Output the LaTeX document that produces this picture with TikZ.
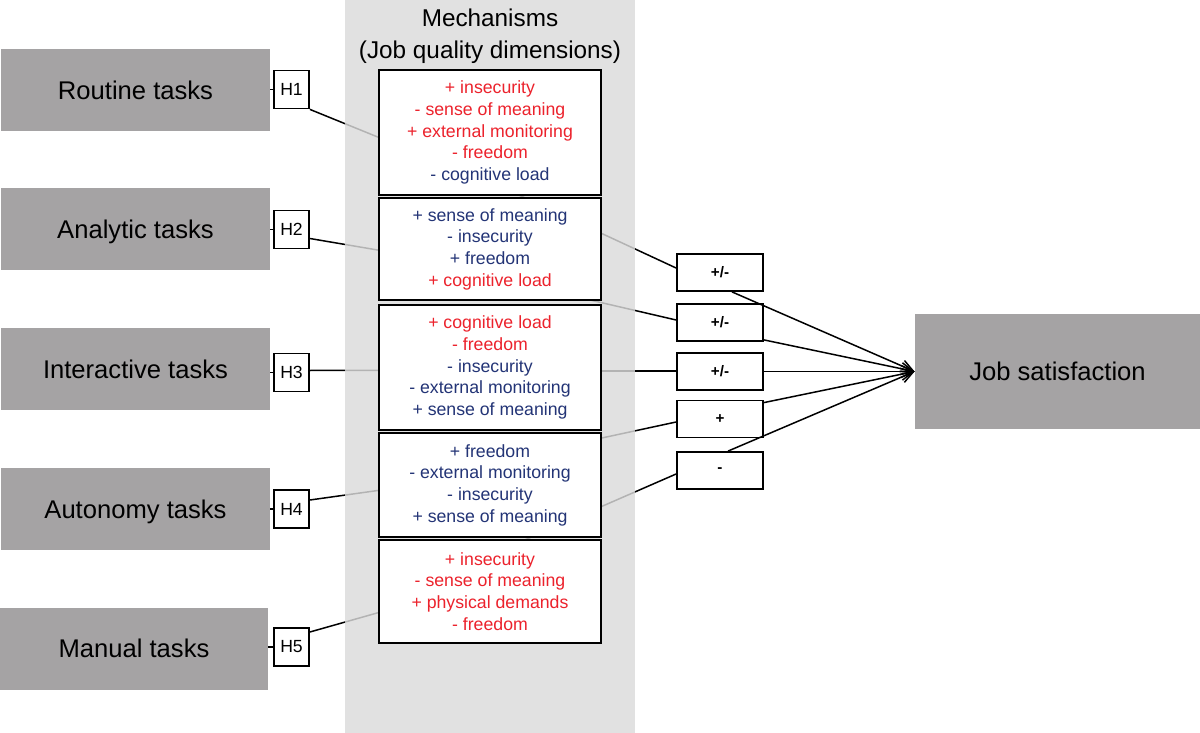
\documentclass[tikz,border=0pt]{standalone}
\usepackage{fontspec}
\setmainfont{Liberation Sans}
\usetikzlibrary{arrows.meta,calc}
\definecolor{taskgray}{RGB}{165,163,164}
\definecolor{panelgray}{RGB}{219,219,219}
\definecolor{negred}{RGB}{236,34,44}
\definecolor{posblue}{RGB}{35,52,118}
\tikzset{
  task/.style={fill=taskgray, minimum width=134.5pt, minimum height=41pt, inner sep=0pt, text height=9.2pt, text depth=0pt, font=\fontsize{12.8pt}{15pt}\selectfont},
  hyp/.style={draw, line width=0.9pt, fill=white, minimum width=17.5pt, minimum height=19pt, inner sep=0pt, font=\fontsize{8.8pt}{10pt}\selectfont},
  mech/.style={draw, line width=1.1pt, fill=white, minimum width=111pt, inner sep=0pt, align=center, font=\fontsize{8.85pt}{10.85pt}\selectfont},
  sign/.style={draw, line width=0.9pt, fill=white, minimum width=43pt, minimum height=18.5pt, inner sep=0pt, font=\bfseries\fontsize{7.6pt}{9pt}\selectfont},
  conn/.style={line width=0.75pt, black},
  outarrow/.style={line width=0.75pt, black, -{Straight Barb[length=6pt,width=6pt,line width=0.75pt]}},
  title/.style={font=\fontsize{12.15pt}{14pt}\selectfont},
}
\begin{document}
\begin{tikzpicture}[x=0.5pt,y=-0.5pt]
\useasboundingbox (0,0) rectangle (1200,733);

% task boxes
\node[task] (r1) at (135.5,90) {Routine tasks};
\node[task] (r2) at (135.5,229) {Analytic tasks};
\node[task] (r3) at (135.5,369) {Interactive tasks};
\node[task] (r4) at (135.5,509) {Autonomy tasks};
\node[task, minimum width=134pt] (r5) at (134,648.5) {Manual tasks};

% hypothesis boxes
\node[hyp] (h1) at (291.5,89.5) {H1};
\node[hyp] (h2) at (291.5,229.5) {H2};
\node[hyp] (h3) at (291.5,372.5) {H3};
\node[hyp] (h4) at (291.5,509) {H4};
\node[hyp] (h5) at (291.5,647) {H5};

\foreach \i in {1,...,5} { \draw[conn] (h\i.west) -- (h\i.west -| r\i.east); }

% mechanism box positions (coordinates for hidden line ends)
\coordinate (m1c) at (490,132.5);
\coordinate (m2c) at (490,249);
\coordinate (m3c) at (490,367.5);
\coordinate (m4c) at (490,485);
\coordinate (m5c) at (490,591.5);

% sign boxes
\node[sign] (s1) at (720,272.5) {+/-};
\node[sign] (s2) at (720,322.5) {+/-};
\node[sign] (s3) at (720,371.5) {+/-};
\node[sign] (s4) at (720,419) {+};
\node[sign] (s5) at (720,470.5) {-};

% connectors from H boxes into mechanism boxes (partly under the panel)
\draw[conn] (h1.south east) -- ($(m1c)+(-30,38)$);
\draw[conn] ($(h2.east)+(0,9)$) -- ($(m2c)+(-30,15)$);
\draw[conn] ($(h3.east)+(0,-2)$) -- ($(m3c)+(-30,2.5)$);
\draw[conn] ($(h4.east)+(0,-9)$) -- ($(m4c)+(-30,-6)$);
\draw[conn] ($(h5.east)+(0,-15)$) -- ($(m5c)+(-30,-2)$);

% connectors from mechanism boxes to sign boxes
\draw[conn] ($(s1.west)+(0,-4.5)$) -- ($(m1c)+(-10,44.5)$);
\draw[conn] ($(s2.west)+(0,-2.5)$) -- ($(m2c)+(70,44)$);
\draw[conn] ($(s3.west)+(0,-0.5)$) -- ($(m3c)+(70,3.5)$);
\draw[conn] ($(s4.west)+(0,3)$) -- ($(m4c)+(70,-38)$);
\draw[conn] ($(s5.west)+(0,3.5)$) -- ($(m5c)+(-10,-32)$);

% translucent panel
\fill[panelgray, fill opacity=0.82] (345,0) rectangle (635,733);
\node[title] (t1) at (490,18) {Mechanisms};
\node[title] (t2) at (490,52) {(Job quality dimensions)};

% mechanism boxes
\node[mech, minimum height=62.5pt] (m1) at (m1c) {%
\textcolor{negred}{+ insecurity}\\
\textcolor{negred}{- sense of meaning}\\
\textcolor{negred}{+ external monitoring}\\
\textcolor{negred}{- freedom}\\
\textcolor{posblue}{- cognitive load}};
\node[mech, minimum height=51pt] (m2) at (m2c) {%
\textcolor{posblue}{+ sense of meaning}\\
\textcolor{posblue}{- insecurity}\\
\textcolor{posblue}{+ freedom}\\
\textcolor{negred}{+ cognitive load}};
\node[mech, minimum height=62.5pt] (m3) at (m3c) {%
\textcolor{negred}{+ cognitive load}\\
\textcolor{negred}{- freedom}\\
\textcolor{posblue}{- insecurity}\\
\textcolor{posblue}{- external monitoring}\\
\textcolor{posblue}{+ sense of meaning}};
\node[mech, minimum height=52pt] (m4) at (m4c) {%
\textcolor{posblue}{+ freedom}\\
\textcolor{posblue}{- external monitoring}\\
\textcolor{posblue}{- insecurity}\\
\textcolor{posblue}{+ sense of meaning}};
\node[mech, minimum height=51.5pt] (m5) at (m5c) {%
\textcolor{negred}{+ insecurity}\\
\textcolor{negred}{- sense of meaning}\\
\textcolor{negred}{+ physical demands}\\
\textcolor{negred}{- freedom}};

% outcome
\node[task, minimum width=142.5pt, minimum height=57.5pt] (js) at (1057.5,371.5) {Job satisfaction};

% arrows to outcome
\draw[outarrow] ($(s1.south)+(12,0)$) -- (js.west);
\draw[outarrow] ($(s2.south east)+(0,-2)$) -- (js.west);
\draw[outarrow] (s3.east) -- (js.west);
\draw[outarrow] ($(s4.north east)+(0,3)$) -- (js.west);
\draw[outarrow] ($(s5.north)+(8,0)$) -- (js.west);
\end{tikzpicture}
\end{document}
